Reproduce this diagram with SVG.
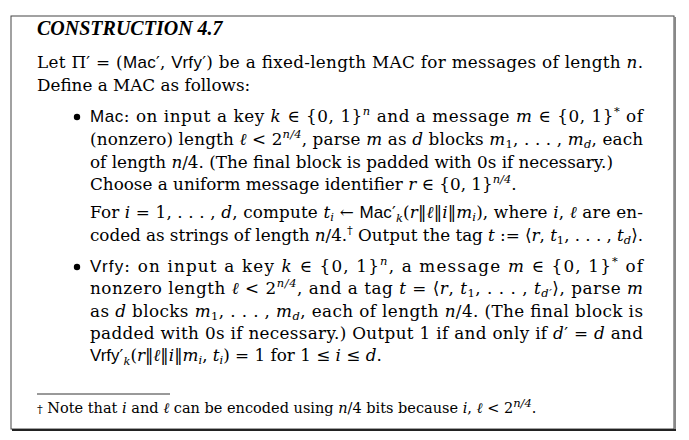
<svg xmlns="http://www.w3.org/2000/svg" width="689" height="440" viewBox="0 0 689 440">
<style>
text{font-family:"DejaVu Serif","Liberation Serif",serif;font-size:16.8px;fill:#000}
.sf{font-family:"Liberation Sans","DejaVu Sans",sans-serif;font-size:17px}
.i{font-style:italic}
.sup{font-size:11.5px}
.fn{font-size:14.5px}
</style>
<rect x="0" y="0" width="689" height="440" fill="#fff"/>
<g id="frame">
<rect x="11" y="16" width="663" height="413" fill="none" stroke="#444" stroke-width="1"/>
<line x1="675" y1="17" x2="675" y2="430" stroke="#888" stroke-width="2"/>
<line x1="12" y1="430" x2="676" y2="430" stroke="#222" stroke-width="2"/>
</g>
<g id="title"><text x="37" y="35" style="font-family:'Liberation Serif',serif;font-weight:bold;font-style:italic;font-size:20px">CONSTRUCTION 4.7</text></g>
<g id="intro">
<text x="37" y="68" textLength="606" lengthAdjust="spacing">Let Π′ = (<tspan class="sf">Mac</tspan>′, <tspan class="sf">Vrfy</tspan>′) be a fixed-length MAC for messages of length <tspan class="i">n</tspan>.</text>
<text x="37" y="91">Define a MAC as follows:</text>
</g>
<g id="mac">
<circle cx="77" cy="117" r="3.2" fill="#000"/>
<text x="90" y="122" textLength="553" lengthAdjust="spacing"><tspan class="sf">Mac</tspan>:  on input a key <tspan class="i">k</tspan> ∈ {0, 1}<tspan class="sup i" dy="-7">n</tspan><tspan dy="7"> and a message </tspan><tspan class="i">m</tspan> ∈ {0, 1}<tspan class="sup" dy="-7">*</tspan><tspan dy="7"> of</tspan></text>
<text x="90" y="145" textLength="553" lengthAdjust="spacing">(nonzero) length <tspan class="i">ℓ</tspan> &lt; 2<tspan class="sup i" dy="-7">n/4</tspan><tspan dy="7">, parse </tspan><tspan class="i">m</tspan> as <tspan class="i">d</tspan> blocks <tspan class="i">m</tspan><tspan class="sup" dy="3">1</tspan><tspan dy="-3">, . . . , </tspan><tspan class="i">m</tspan><tspan class="sup i" dy="3">d</tspan><tspan dy="-3">, each</tspan></text>
<text x="90" y="168">of length <tspan class="i">n</tspan>/4.  (The final block is padded with 0s if necessary.)</text>
<text x="90" y="190">Choose a uniform message identifier <tspan class="i">r</tspan> ∈ {0, 1}<tspan class="sup i" dy="-7">n/4</tspan><tspan dy="7">.</tspan></text>
<text x="90" y="218" textLength="553" lengthAdjust="spacing">For <tspan class="i">i</tspan> = 1, . . . , <tspan class="i">d</tspan>, compute <tspan class="i">t</tspan><tspan class="sup i" dy="3">i</tspan><tspan dy="-3"> ← </tspan><tspan class="sf">Mac</tspan>′<tspan class="sup i" dy="4">k</tspan><tspan dy="-4">(</tspan><tspan class="i">r</tspan>‖<tspan class="i">ℓ</tspan>‖<tspan class="i">i</tspan>‖<tspan class="i">m</tspan><tspan class="sup i" dy="3">i</tspan><tspan dy="-3">), where </tspan><tspan class="i">i</tspan>, <tspan class="i">ℓ</tspan> are en-</text>
<text x="90" y="241" textLength="553" lengthAdjust="spacing">coded as strings of length <tspan class="i">n</tspan>/4.<tspan class="sup" dy="-7">†</tspan><tspan dy="7"> Output the tag </tspan><tspan class="i">t</tspan> := ⟨<tspan class="i">r</tspan>, <tspan class="i">t</tspan><tspan class="sup" dy="3">1</tspan><tspan dy="-3">, . . . , </tspan><tspan class="i">t</tspan><tspan class="sup i" dy="3">d</tspan><tspan dy="-3">⟩.</tspan></text>
</g>
<g id="vrfy">
<circle cx="77" cy="267" r="3.2" fill="#000"/>
<text x="90" y="272" textLength="553" lengthAdjust="spacing"><tspan class="sf">Vrfy</tspan>:  on input a key <tspan class="i">k</tspan> ∈ {0, 1}<tspan class="sup i" dy="-7">n</tspan><tspan dy="7">, a message </tspan><tspan class="i">m</tspan> ∈ {0, 1}<tspan class="sup" dy="-7">*</tspan><tspan dy="7"> of</tspan></text>
<text x="90" y="294" textLength="553" lengthAdjust="spacing">nonzero length <tspan class="i">ℓ</tspan> &lt; 2<tspan class="sup i" dy="-7">n/4</tspan><tspan dy="7">, and a tag </tspan><tspan class="i">t</tspan> = ⟨<tspan class="i">r</tspan>, <tspan class="i">t</tspan><tspan class="sup" dy="3">1</tspan><tspan dy="-3">, . . . , </tspan><tspan class="i">t</tspan><tspan class="sup i" dy="3">d′</tspan><tspan dy="-3">⟩, parse </tspan><tspan class="i">m</tspan></text>
<text x="90" y="317" textLength="553" lengthAdjust="spacing">as <tspan class="i">d</tspan> blocks <tspan class="i">m</tspan><tspan class="sup" dy="3">1</tspan><tspan dy="-3">, . . . , </tspan><tspan class="i">m</tspan><tspan class="sup i" dy="3">d</tspan><tspan dy="-3">, each of length </tspan><tspan class="i">n</tspan>/4.  (The final block is</text>
<text x="90" y="339" textLength="553" lengthAdjust="spacing">padded with 0s if necessary.)  Output 1 if and only if <tspan class="i">d</tspan>′ = <tspan class="i">d</tspan> and</text>
<text x="90" y="361"><tspan class="sf">Vrfy</tspan>′<tspan class="sup i" dy="4">k</tspan><tspan dy="-4">(</tspan><tspan class="i">r</tspan>‖<tspan class="i">ℓ</tspan>‖<tspan class="i">i</tspan>‖<tspan class="i">m</tspan><tspan class="sup i" dy="3">i</tspan><tspan dy="-3">, </tspan><tspan class="i">t</tspan><tspan class="sup i" dy="3">i</tspan><tspan dy="-3">) = 1 for 1 ≤ </tspan><tspan class="i">i</tspan> ≤ <tspan class="i">d</tspan>.</text>
</g>
<g id="footnote">
<line x1="37" y1="394" x2="170" y2="394" stroke="#000" stroke-width="0.8"/>
<text x="37" y="413" class="fn"><tspan class="sup">†</tspan> Note that <tspan class="i">i</tspan> and <tspan class="i">ℓ</tspan> can be encoded using <tspan class="i">n</tspan>/4 bits because <tspan class="i">i</tspan>, <tspan class="i">ℓ</tspan> &lt; 2<tspan class="sup i" dy="-6">n/4</tspan><tspan dy="6">.</tspan></text>
</g>
</svg>
